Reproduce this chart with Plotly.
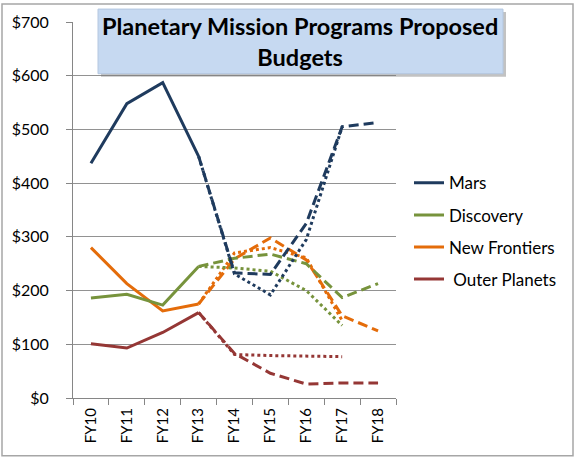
import plotly.graph_objects as go

# fiscal years on the x axis
years = ["FY10", "FY11", "FY12", "FY13", "FY14", "FY15", "FY16", "FY17", "FY18"]

# budgets in $M: solid = enacted, dashed = proposed, dotted = earlier plan
mars_enacted = [437, 548, 587, 450, None, None, None, None, None]
mars_proposed = [None, None, None, 450, 233, 230, 325, 505, 513]
mars_plan = [None, None, None, 450, 231, 192, 295, 505, None]

discovery_enacted = [186, 193, 173, 245, None, None, None, None, None]
discovery_proposed = [None, None, None, 245, 260, 268, 250, 187, 213]
discovery_plan = [None, None, None, 245, 242, 236, 200, 135, None]

frontiers_enacted = [280, 213, 162, 175, None, None, None, None, None]
frontiers_proposed = [None, None, None, 175, 259, 298, 257, 153, 125]
frontiers_plan = [None, None, None, 175, 270, 280, 261, 144, None]

outer_enacted = [101, 93, 122, 159, None, None, None, None, None]
outer_proposed = [None, None, None, 159, 83, 46, 26, 28, 28]
outer_plan = [None, None, None, 159, 81, 79, 78, 77, None]

y_ticks = [0, 100, 200, 300, 400, 500, 600, 700]
y_tick_labels = ["$0", "$100", "$200", "$300", "$400", "$500", "$600", "$700"]

# figure pixel layout
W, H = 576, 459
L, R, T, B = 73, 180, 20, 61
PW, PH = W - L - R, H - T - B


def px_x(x):
    return (x - L) / PW


def px_y(y):
    return (H - B - y) / PH


series = [
    ("Outer Planets", " Outer Planets", "#953735", outer_enacted, outer_proposed, outer_plan, 4),
    ("New Frontiers", "New Frontiers", "#E46C0A", frontiers_enacted, frontiers_proposed, frontiers_plan, 3),
    ("Discovery", "Discovery", "#77933C", discovery_enacted, discovery_proposed, discovery_plan, 2),
    ("Mars", "Mars", "#1F3B5E", mars_enacted, mars_proposed, mars_plan, 1),
]

fig = go.Figure()

for key, label, color, enacted, proposed, plan, rank in series:
    fig.add_trace(go.Scatter(
        x=years, y=plan, mode="lines", showlegend=False,
        line=dict(color=color, width=3, dash="3px,3px"),
    ))
    fig.add_trace(go.Scatter(
        x=years, y=proposed, mode="lines", showlegend=False,
        line=dict(color=color, width=3, dash="10px,5px"),
    ))
    fig.add_trace(go.Scatter(
        x=years, y=enacted, mode="lines", name=label,
        legendgroup=key, legendrank=rank,
        line=dict(color=color, width=3),
    ))

font_name = "Lato"

fig.update_layout(
    width=W, height=H,
    margin=dict(l=L, r=R, t=T, b=B),
    paper_bgcolor="white",
    plot_bgcolor="white",
    font=dict(family=font_name, color="#000000"),
    showlegend=True,
    legend=dict(
        x=px_x(409), y=px_y(164), xanchor="left", yanchor="top",
        font=dict(size=17, family=font_name),
        tracegroupgap=7,
        itemwidth=30,
        bgcolor="rgba(0,0,0,0)",
    ),
)

fig.update_xaxes(
    type="category", range=[-0.5, 8.5],
    showline=True, linecolor="#868686", linewidth=1,
    ticks="outside", tickson="boundaries", ticklen=6, tickcolor="#868686",
    tickangle=-90, tickfont=dict(size=15, family=font_name),
    ticklabelstandoff=3,
    showgrid=False, zeroline=False,
)

fig.update_yaxes(
    range=[0, 700], tickvals=y_ticks, ticktext=y_tick_labels,
    showline=True, linecolor="#868686", linewidth=1,
    ticks="outside", ticklen=6, tickcolor="#868686",
    tickfont=dict(size=16, family=font_name),
    ticklabelstandoff=14,
    showgrid=True, gridcolor="#929292", gridwidth=1,
    zeroline=False,
)

# title box with a soft shadow
fig.add_shape(type="rect", xref="paper", yref="paper",
              x0=px_x(101), x1=px_x(506), y0=px_y(75), y1=px_y(10),
              fillcolor="rgba(120,120,120,0.45)", line_width=0, layer="above")
fig.add_shape(type="rect", xref="paper", yref="paper",
              x0=px_x(98), x1=px_x(503), y0=px_y(72), y1=px_y(7),
              fillcolor="#C6D9F1", line=dict(color="#B4C7E0", width=1), layer="above")
fig.add_annotation(
    xref="paper", yref="paper", x=px_x(300), y=px_y(40),
    xanchor="center", yanchor="middle",
    text="<b>Planetary Mission Programs Proposed<br>Budgets</b>",
    showarrow=False, font=dict(size=23.5, family=font_name, color="#000000"),
    align="center",
)

# outer frame of the chart
fig.add_shape(type="rect", xref="paper", yref="paper",
              x0=px_x(2), x1=px_x(573), y0=px_y(456), y1=px_y(2),
              line=dict(color="#A6A6A6", width=1.5), fillcolor="rgba(0,0,0,0)", layer="above")

fig.write_html("out.html", config={"displayModeBar": False},
               post_script="document.body.style.margin='0px';")
